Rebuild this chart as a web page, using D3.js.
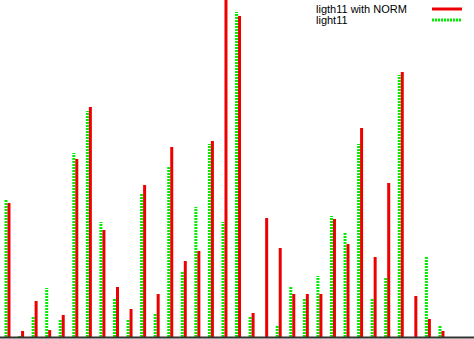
<!DOCTYPE html>
<html>
<head>
<meta charset="utf-8">
<script src="https://cdn.jsdelivr.net/npm/d3@7"></script>
<style>
  body { margin: 0; background: #fff; }
  svg { display: block; font-family: "Liberation Sans", Arial, sans-serif; }
</style>
</head>
<body>
<div id="chart"></div>
<script>
// sample index (1..33)
let samples = d3.range(1, 34);

// "ligth11 with NORM" (red, solid)
let normValues = [134, 6, 36, 7, 22, 178, 230, 107, 50, 28, 152, 43, 190, 76, 86, 196, 360,
    321, 24, 119, 89, 43, 43, 43, 118, 93, 209, 80, 154, 265, 41, 18, 6];

// "light11" (green, dotted)
let rawValues = [138, 1, 21, 49, 17, 184, 226, 115, 38, 17, 144, 24, 171, 66, 130, 193, 115,
    325, 20, 0, 12, 50, 39, 61, 121, 104, 193, 39, 60, 262, 0, 80, 11];

let legendLabels = ["ligth11 with NORM", "light11"];

let width = 474, height = 339;
let margin = { top: 0, right: 0, bottom: 2, left: 0 };

let svg = d3.select("#chart").append("svg")
    .attr("width", width)
    .attr("height", height);

// scales
let x = d3.scaleLinear()
    .domain([0.447, 35.4])
    .range([0, width]);

let y = d3.scaleLinear()
    .domain([0, 337])
    .range([height - margin.bottom, 0]);

let plot = svg.append("g");

// green impulses (drawn a bit left of the index)
plot.selectAll(".raw")
    .data(samples)
    .enter().append("line")
    .attr("class", "raw")
    .attr("x1", d => x(d) - 1.5)
    .attr("x2", d => x(d) - 1.5)
    .attr("y1", y(0))
    .attr("y2", (d, i) => y(rawValues[i]))
    .attr("stroke", "#00ee00")
    .attr("stroke-width", 3)
    .attr("stroke-dasharray", "2,1");

// red impulses
plot.selectAll(".norm")
    .data(samples)
    .enter().append("line")
    .attr("class", "norm")
    .attr("x1", d => x(d) + 1.5)
    .attr("x2", d => x(d) + 1.5)
    .attr("y1", y(0))
    .attr("y2", (d, i) => Math.max(0, y(normValues[i])))
    .attr("stroke", "#ee0000")
    .attr("stroke-width", 3);

// baseline
svg.append("line")
    .attr("x1", 0).attr("x2", width)
    .attr("y1", y(0) + 0.5).attr("y2", y(0) + 0.5)
    .attr("stroke", "#333")
    .attr("stroke-width", 2);

// legend
let legend = svg.append("g");
let legendStyles = [
    { color: "#ee0000", dash: null },
    { color: "#00ee00", dash: "2,1" }
];
legendLabels.forEach((label, i) => {
    let yy = 9 + i * 11;
    legend.append("text")
        .attr("x", 316)
        .attr("y", yy + 4)
        .attr("font-size", 11)
        .attr("fill", "#000")
        .text(label);
    legend.append("line")
        .attr("x1", 432).attr("x2", 462)
        .attr("y1", yy).attr("y2", yy)
        .attr("stroke", legendStyles[i].color)
        .attr("stroke-width", 3)
        .attr("stroke-dasharray", legendStyles[i].dash);
});
</script>
</body>
</html>
